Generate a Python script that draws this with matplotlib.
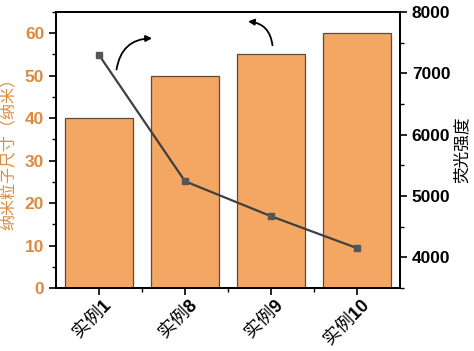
import matplotlib
matplotlib.use("Agg")
import matplotlib.pyplot as plt
from matplotlib.ticker import MultipleLocator, FixedLocator

# ----------------------------------------------------------------------
# Data
# ----------------------------------------------------------------------
categories = ["实例1", "实例8", "实例9", "实例10"]
particle_size = [40, 50, 55, 60]          # 纳米
fluorescence = [7300, 5240, 4670, 4150]   # 荧光强度

BAR_COLOR = "#F4A663"
ORANGE_TEXT = "#DD8A3E"
LINE_COLOR = "#404040"

plt.rcParams["font.family"] = ["Liberation Sans", "Noto Sans CJK SC", "DejaVu Sans"]
plt.rcParams["mathtext.fontset"] = "custom"
plt.rcParams["mathtext.bf"] = "Liberation Sans:bold"
plt.rcParams["mathtext.rm"] = "Liberation Sans"

fig = plt.figure(figsize=(4.74, 3.51), dpi=100)
ax = fig.add_axes([0.118, 0.1795, 0.726, 0.7865])
ax2 = ax.twinx()

x = list(range(len(categories)))
ax.bar(x, particle_size, width=0.79, color=BAR_COLOR,
       edgecolor="#5a4a40", linewidth=0.9, zorder=2)
ax.set_xlim(-0.5, 3.5)
ax.set_ylim(0, 65)
ax.yaxis.set_major_locator(MultipleLocator(10))
ax.yaxis.set_minor_locator(MultipleLocator(5))
ax.set_xticks(x)
ax.set_xticklabels([])

# chinese part regular, number part bold (as in the original figure)
for xi, c in zip(x, categories):
    head = c.rstrip("0123456789")
    num = c[len(head):]
    ax.annotate(head + r"$\mathbf{" + num + "}$",
                xy=(xi, 0), xycoords=("data", "axes fraction"),
                xytext=(6.5, -10), textcoords="offset points",
                rotation=45, ha="right", va="center",
                rotation_mode="anchor", fontsize=13,
                family=["Noto Sans CJK SC"], annotation_clip=False)

ax.xaxis.set_minor_locator(FixedLocator([0.5, 1.5, 2.5]))
ax.tick_params(axis="y", which="major", labelsize=12.5, labelcolor=ORANGE_TEXT,
               length=5, width=1.2, direction="out")
ax.tick_params(axis="y", which="minor", length=3, width=1.0)
ax.tick_params(axis="x", which="major", length=5, width=1.2, pad=3)
ax.tick_params(axis="x", which="minor", length=3, width=1.0)
for lbl in ax.get_yticklabels():
    lbl.set_fontweight("bold")
ax.set_ylabel("纳米粒子尺寸（纳米）", fontsize=11.5, color=ORANGE_TEXT,
              family=["Noto Sans CJK SC"], labelpad=5)

ax2.plot(x, fluorescence, color=LINE_COLOR, linewidth=1.6, marker="s",
         markersize=5, markerfacecolor="#555555", markeredgecolor="#555555",
         zorder=3)
ax2.set_ylim(3500, 8000)
ax2.yaxis.set_major_locator(MultipleLocator(1000))
ax2.yaxis.set_minor_locator(MultipleLocator(500))
ax2.tick_params(axis="y", which="major", labelsize=12.5, length=5, width=1.2)
ax2.tick_params(axis="y", which="minor", length=3, width=1.0)
for lbl in ax2.get_yticklabels():
    lbl.set_fontweight("bold")
ax2.set_ylabel("荧光强度", fontsize=12, family=["Noto Sans CJK SC"],
               labelpad=2)

for a in (ax, ax2):
    for s in a.spines.values():
        s.set_linewidth(1.3)

# curved arrows pointing to the matching axes
ax.annotate("", xy=(0.65, 58.8), xytext=(0.2, 50.8),
            arrowprops=dict(arrowstyle="-|>", color="black", lw=1.3,
                            mutation_scale=9,
                            connectionstyle="arc3,rad=-0.45"))
ax.annotate("", xy=(1.7, 62.8), xytext=(2.02, 56.5),
            arrowprops=dict(arrowstyle="-|>", color="black", lw=1.3,
                            mutation_scale=9,
                            connectionstyle="arc3,rad=0.45"))

fig.savefig("out.png", dpi=100)
